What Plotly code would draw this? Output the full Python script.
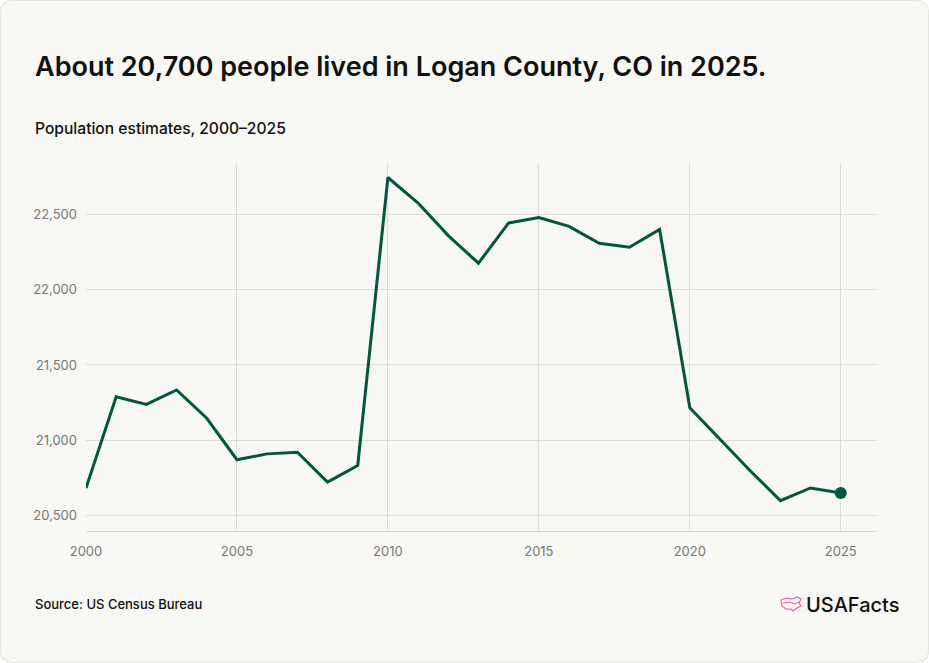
import plotly.graph_objects as go

years = list(range(2000, 2026))
population = [20685, 21289, 21239, 21334, 21147, 20872, 20911, 20922, 20724, 20834,
              22742, 22573, 22357, 22174, 22441, 22476, 22418, 22306, 22280, 22398,
              21217, 21008, 20799, 20601, 20685, 20652]
x_ticks = [2000, 2005, 2010, 2015, 2020, 2025]
y_ticks = [20500, 21000, 21500, 22000, 22500]

W, H = 929, 663
L, R, T, B = 86, 52, 163, 132
PW, PH = W - L - R, H - T - B

def px(x):
    return (x - L) / PW

def py(y):
    return (H - B - y) / PH

GREEN = "#00573f"
fig = go.Figure()
fig.add_trace(go.Scatter(x=years, y=population, mode="lines",
                         line=dict(color=GREEN, width=3), hoverinfo="x+y",
                         showlegend=False))
fig.add_trace(go.Scatter(x=[years[-1]], y=[population[-1]], mode="markers",
                         marker=dict(color=GREEN, size=12), showlegend=False))

# card background
r = 12
x0, y0, x1, y1 = 0.5, 0.5, W - 0.5, H - 0.5
def P(x, y):
    return f"{px(x):.5f},{py(y):.5f}"
card = (f"M {P(x0 + r, y0)} L {P(x1 - r, y0)} Q {P(x1, y0)} {P(x1, y0 + r)} "
        f"L {P(x1, y1 - r)} Q {P(x1, y1)} {P(x1 - r, y1)} L {P(x0 + r, y1)} "
        f"Q {P(x0, y1)} {P(x0, y1 - r)} L {P(x0, y0 + r)} Q {P(x0, y0)} {P(x0 + r, y0)} Z")
shapes = [dict(type="path", xref="paper", yref="paper", path=card,
               fillcolor="#f7f7f3", line=dict(color="#e4e4df", width=1), layer="below")]

# logo icon (rough US outline)
icon_pts = [(781, 600), (786, 598), (792, 599), (797, 597), (801, 599), (799, 603),
            (801, 606), (797, 608), (793, 611), (791, 609), (786, 609), (782, 606), (781, 600)]
icon = "M " + " L ".join(P(a, b) for a, b in icon_pts) + " Z"
shapes.append(dict(type="path", xref="paper", yref="paper", path=icon,
                   line=dict(color="#ec5fa3", width=1.2), fillcolor="rgba(0,0,0,0)"))
icon2 = [(783, 603), (789, 602), (795, 604), (799, 602)]
shapes.append(dict(type="path", xref="paper", yref="paper",
                   path="M " + " L ".join(P(a, b) for a, b in icon2),
                   line=dict(color="#ec5fa3", width=1)))

annotations = [
    dict(text="About 20,700 people lived in Logan County, CO in 2025.", x=px(33), y=py(67),
         xref="paper", yref="paper", xanchor="left", yanchor="middle", showarrow=False,
         font=dict(family="Inter", size=27, color="#111111", weight=600)),
    dict(text="Population estimates, 2000–2025", x=px(33), y=py(128),
         xref="paper", yref="paper", xanchor="left", yanchor="middle", showarrow=False,
         font=dict(family="Inter", size=15.6, color="#111111", weight=450)),
    dict(text="Source: US Census Bureau", x=px(33), y=py(604),
         xref="paper", yref="paper", xanchor="left", yanchor="middle", showarrow=False,
         font=dict(family="Inter", size=13, color="#111111", weight=500)),
    dict(text="USAFacts", x=px(804), y=py(605),
         xref="paper", yref="paper", xanchor="left", yanchor="middle", showarrow=False,
         font=dict(family="Inter", size=20, color="#111111", weight=500)),
]

fig.update_layout(
    width=W, height=H,
    margin=dict(l=L, r=R, t=T, b=B, pad=0),
    paper_bgcolor="#ffffff", plot_bgcolor="rgba(0,0,0,0)",
    shapes=shapes, annotations=annotations,
    xaxis=dict(range=[2000, 2026.2], tickvals=x_ticks, ticktext=[str(v) for v in x_ticks],
               showgrid=True, gridcolor="#dcdcd8", gridwidth=1, zeroline=False,
               showline=True, linecolor="#d6d6d2", linewidth=1, ticks="",
               tickfont=dict(family="Inter", size=13, color="#777777"), ticklabelstandoff=8),
    yaxis=dict(range=[20400, 22838], tickvals=y_ticks, tickformat=",",
               showgrid=True, gridcolor="#dcdcd8", gridwidth=1, zeroline=False,
               showline=False, ticks="",
               tickfont=dict(family="Inter", size=13, color="#777777"), ticklabelstandoff=8),
    hovermode="closest",
)

fig.write_html("out.html")
